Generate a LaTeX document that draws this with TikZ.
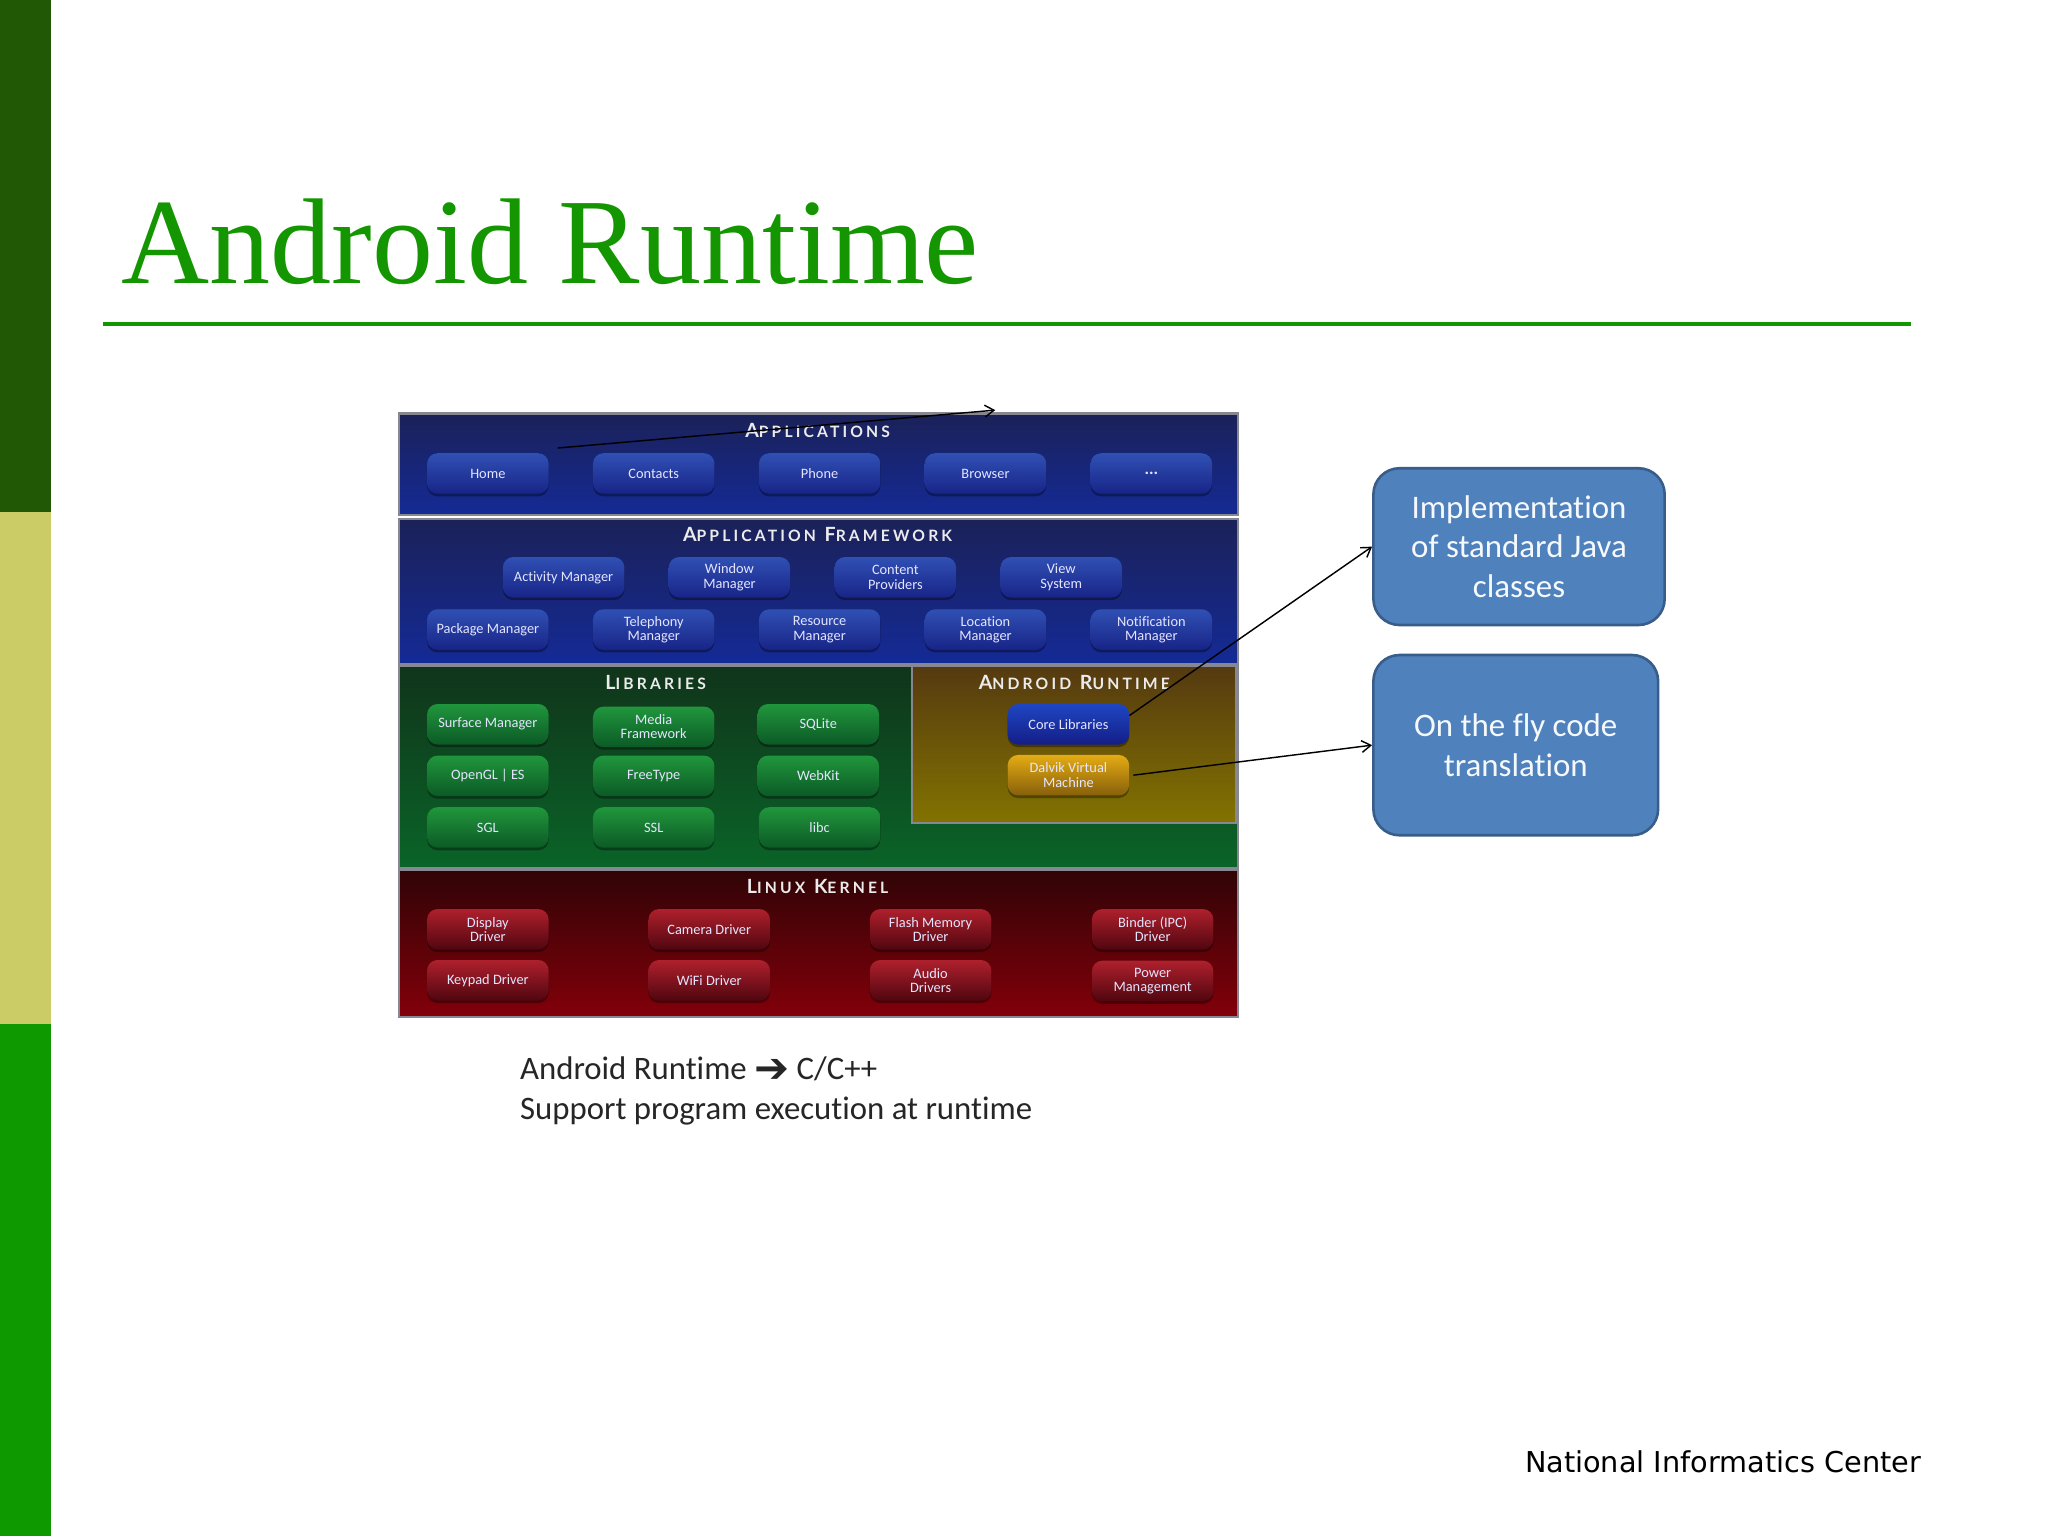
\documentclass[tikz,border=0pt]{standalone}
\usepackage{fontspec}
\setmainfont{Liberation Serif}
\newfontfamily\carlito[Ligatures=NoCommon]{Carlito}
\newfontfamily\dejavu{DejaVu Sans}
\newfontfamily\headfont[LetterSpace=20]{Lato}
\usetikzlibrary{arrows.meta,shadows}
\definecolor{sideA}{RGB}{32,88,6}
\definecolor{sideB}{RGB}{204,204,102}
\definecolor{sideC}{RGB}{15,153,0}
\definecolor{titlegreen}{RGB}{20,150,0}
\definecolor{panelline}{RGB}{135,135,145}
\definecolor{callout}{RGB}{79,129,189}
\definecolor{calloutline}{RGB}{56,93,138}
\tikzset{
  x=1pt,y=-1pt,
  bar/.style={draw=none,minimum width=39pt,inner sep=0pt,anchor=north west},
  panel/.style={draw=panelline,line width=1.6pt,inner sep=0pt,anchor=north west},
  bluepanel/.style={panel,top color={rgb,255:red,27;green,33;blue,88},bottom color={rgb,255:red,20;green,42;blue,150}},
  greenpanel/.style={panel,top color={rgb,255:red,16;green,52;blue,26},bottom color={rgb,255:red,10;green,100;blue,40}},
  runtimepanel/.style={panel,top color={rgb,255:red,85;green,58;blue,16},bottom color={rgb,255:red,130;green,115;blue,0}},
  redpanel/.style={panel,top color={rgb,255:red,48;green,4;blue,6},bottom color={rgb,255:red,130;green,0;blue,10}},
  btn/.style={rounded corners=8pt,minimum width=93pt,minimum height=31pt,inner sep=0pt,align=center,text=white!90!blue,
     font=\carlito\fontsize{11}{11}\selectfont,
     drop shadow={shadow xshift=0pt,shadow yshift=-2pt,opacity=.35,fill=black}},
  bluebtn/.style={btn,top color={rgb,255:red,48;green,80;blue,180},bottom color={rgb,255:red,24;green,36;blue,135}},
  greenbtn/.style={btn,top color={rgb,255:red,32;green,150;blue,60},bottom color={rgb,255:red,12;green,90;blue,38}},
  redbtn/.style={btn,top color={rgb,255:red,175;green,32;blue,45},bottom color={rgb,255:red,80;green,6;blue,15}},
  goldbtn/.style={btn,top color={rgb,255:red,228;green,172;blue,20},bottom color={rgb,255:red,135;green,95;blue,10}},
  corebtn/.style={btn,top color={rgb,255:red,30;green,70;blue,195},bottom color={rgb,255:red,20;green,30;blue,135}},
  heading/.style={text=white!92!black,inner sep=0pt,font=\headfont\bfseries\fontsize{15}{14}\selectfont},
  calloutbox/.style={draw=calloutline,line width=2pt,fill=callout,rounded corners=20pt,inner sep=0pt,anchor=north west,
     text=white!95!callout,align=center,font=\carlito\fontsize{25.2}{30.5}\selectfont},
  pointer/.style={draw=black,line width=1.1pt,-{Straight Barb[length=7pt,width=9pt]}},
}
\newcommand{\hd}[2]{#1{\fontsize{12}{11}\selectfont #2}}
\begin{document}
\begin{tikzpicture}
\useasboundingbox (0,0) rectangle (1568,1176);
\fill[white] (0,0) rectangle (1568,1176);
% side bars
\node[bar,fill=sideA,minimum height=392pt] (barA) at (0,0) {};
\node[bar,fill=sideB,minimum height=392pt] (barB) at (0,392) {};
\node[bar,fill=sideC,minimum height=392pt] (barC) at (0,784) {};
% title
\node[anchor=base west,inner sep=0pt,text=titlegreen,font=\fontsize{93.4}{93}\selectfont] (title) at (93,217) {Android Runtime};
\coordinate (ruleA) at (79,248);
\coordinate (ruleB) at (1463,248);
\draw[titlegreen,line width=3pt] (ruleA) -- (ruleB);
% panels
\node[bluepanel,minimum width=642pt,minimum height=78pt] (apps) at (304.8,315.8) {};
\node[bluepanel,minimum width=642pt,minimum height=111pt] (fw) at (304.8,396.3) {};
\node[greenpanel,minimum width=642pt,minimum height=155pt] (libs) at (304.8,508.8) {};
\node[runtimepanel,minimum width=248pt,minimum height=120pt] (rt) at (697.3,509.3) {};
\node[redpanel,minimum width=642pt,minimum height=112pt] (kernel) at (304.8,665.5) {};
% headings
\node[heading] (happs) at (626,329.5) {\hd{A}{PPLICATIONS}};
\node[heading] (hfw) at (626,409.5) {\hd{A}{PPLICATION} \hd{F}{RAMEWORK}};
\node[heading] (hlibs) at (502,522.5) {\hd{L}{IBRARIES}};
\node[heading] (hrt) at (822.5,522.5) {\hd{A}{NDROID} \hd{R}{UNTIME}};
\node[heading] (hkernel) at (626,678.5) {\hd{L}{INUX} \hd{K}{ERNEL}};
% applications
\node[bluebtn] (home) at (373.5,362.5) {Home};
\node[bluebtn] (contacts) at (500.5,362.5) {Contacts};
\node[bluebtn] (phone) at (627.5,362.5) {Phone};
\node[bluebtn] (browser) at (754.5,362.5) {Browser};
\node[bluebtn] (more) at (881.5,362.5) {\bfseries\fontsize{13}{13}\selectfont ...};
% framework
\node[bluebtn] (activity) at (431.5,442) {Activity Manager};
\node[bluebtn] (window) at (558.5,442) {Window\\Manager};
\node[bluebtn] (content) at (685.5,442) {Content\\Providers};
\node[bluebtn] (view) at (812.5,442) {View\\System};
\node[bluebtn] (package) at (373.5,482) {Package Manager};
\node[bluebtn] (telephony) at (500.5,482) {Telephony\\Manager};
\node[bluebtn] (resource) at (627.5,482) {Resource\\Manager};
\node[bluebtn] (location) at (754.5,482) {Location\\Manager};
\node[bluebtn] (notification) at (881.5,482) {Notification\\Manager};
% libraries
\node[greenbtn] (surface) at (373.5,554.5) {Surface Manager};
\node[greenbtn] (media) at (500.5,556.5) {Media\\Framework};
\node[greenbtn] (sqlite) at (626.5,554.5) {SQLite};
\node[greenbtn] (opengl) at (373.5,594) {OpenGL | ES};
\node[greenbtn] (freetype) at (500.5,594) {FreeType};
\node[greenbtn] (webkit) at (626.5,594) {WebKit};
\node[greenbtn] (sgl) at (373.5,633.5) {SGL};
\node[greenbtn] (ssl) at (500.5,633.5) {SSL};
\node[greenbtn] (libc) at (627.5,633.5) {libc};
% runtime
\node[corebtn] (core) at (818,554.5) {Core Libraries};
\node[goldbtn] (dalvik) at (818,593.5) {Dalvik Virtual\\Machine};
% kernel
\node[redbtn] (display) at (373.5,711.5) {Display\\Driver};
\node[redbtn] (camera) at (543,711.5) {Camera Driver};
\node[redbtn] (flash) at (712.5,711.5) {Flash Memory\\Driver};
\node[redbtn] (binder) at (882.5,711.5) {Binder (IPC)\\Driver};
\node[redbtn] (keypad) at (373.5,750.5) {Keypad Driver};
\node[redbtn] (wifi) at (543,750.5) {WiFi Driver};
\node[redbtn] (audio) at (712.5,750.5) {Audio\\Drivers};
\node[redbtn] (power) at (882.5,751) {Power\\Management};
% callouts
\node[calloutbox,minimum width=223pt,minimum height=120pt] (impl) at (1050.5,357.5) {Implementation\\of standard Java\\classes};
\node[calloutbox,minimum width=218pt,minimum height=138pt] (fly) at (1050.5,500.5) {On the fly code\\translation};
% connectors
\coordinate (strayA) at (427,343);
\coordinate (strayB) at (762,314);
\draw[pointer] (strayA) -- (strayB);
\draw[pointer] (core.north east) ++(0,9) -- (impl.west);
\draw[pointer] (dalvik.east) ++(3,0) -- (fly.west);
% captions
\node[anchor=base west,inner sep=0pt,font=\carlito\fontsize{25.1}{25}\selectfont,text=black!85] (cap1) at (398,826.5) {Android Runtime \raisebox{-2pt}{\dejavu\bfseries\fontsize{32}{25}\selectfont ➔} C/C++};
\node[anchor=base west,inner sep=0pt,font=\carlito\fontsize{25.1}{25}\selectfont,text=black!85] (cap2) at (398,857) {Support program execution at runtime};
\node[anchor=base east,inner sep=0pt,font=\dejavu\fontsize{22}{22}\selectfont] (foot) at (1471,1127) {National Informatics Center};
\end{tikzpicture}
\end{document}
